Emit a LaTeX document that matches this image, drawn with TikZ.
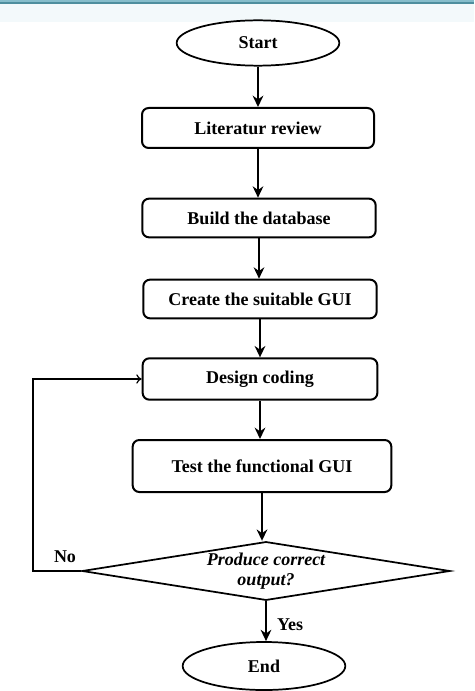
\documentclass[tikz,border=0pt]{standalone}
\usepackage{fontspec}
\setmainfont{Liberation Serif}
\usepackage{xcolor}
\usepackage{tikz}
\usetikzlibrary{arrows.meta,positioning,calc,shapes.geometric}
\definecolor{barlight}{HTML}{86BDCB}
\definecolor{bardark}{HTML}{4E8E9E}
\definecolor{bartint}{HTML}{F3F9FB}
\tikzset{
	txt/.style={font=\bfseries\fontsize{13.5}{15}\selectfont, align=center},
	blk/.style={txt, draw, rounded corners=5pt, line width=1.5pt, minimum height=30pt,
		minimum width=174pt},
	term/.style={txt, draw, ellipse, line width=1.3pt, minimum width=122pt, minimum height=34pt},
	dec/.style={txt, draw, diamond, aspect=6, inner sep=0pt, line width=1.3pt,
		minimum width=276pt, minimum height=44pt},
	flow/.style={line width=1.6pt, -{Stealth[length=8.5pt,width=8pt]}},
	back/.style={line width=0.9pt, -{To[length=4pt,width=7pt]}},
	lbl/.style={txt, inner sep=1pt},
}

\begin{document}
\begin{tikzpicture}[x=0.75pt, y=-0.75pt]
				\useasboundingbox (0,0) rectangle (474,691);
				\fill[bartint] (0,3) rectangle (474,22);
				\fill[barlight] (0,0) rectangle (474,2.6);
				\draw[bardark, line width=0.9pt] (0,3) -- (474,3);
				\node[term] at (258,43) (start) {Start};
				\node[blk] at (258,128) (lit) {Literatur review};
				\node[blk, minimum width=175pt, minimum height=29pt] at (259,218) (db) {Build the database};
				\node[blk, minimum width=175pt, minimum height=29pt] at (260,299) (gui) {Create the suitable GUI};
				\node[blk, minimum width=176pt, minimum height=31pt] at (260,379) (code) {Design coding};
				\node[blk, minimum width=194pt, minimum height=39pt] at (262,466) (test) {Test the functional GUI};
				\node[dec] at (266,571) (check) {\itshape Produce correct\\\itshape output?};
				\node[term, minimum height=36pt] at (264,666) (end) {End};
				\coordinate (loop) at (33,571);
				\draw[flow] (start.south) -- (start.south |- lit.north);
				\draw[flow] (lit.south) -- (lit.south |- db.north);
				\draw[flow] (db.south) -- (db.south |- gui.north);
				\draw[flow] (gui.south) -- (gui.south |- code.north);
				\draw[flow] (code.south) -- (code.south |- test.north);
				\draw[flow] (test.south) -- (test.south |- check.north);
				\draw[flow] (check.south) -- (check.south |- end.north);
				\draw[back] (check.west) -- (loop) |- (code.west);
				\node[lbl] at (65,557) (no) {No};
				\node[lbl] at (290,625) (yes) {Yes};
			\end{tikzpicture}
\end{document}
